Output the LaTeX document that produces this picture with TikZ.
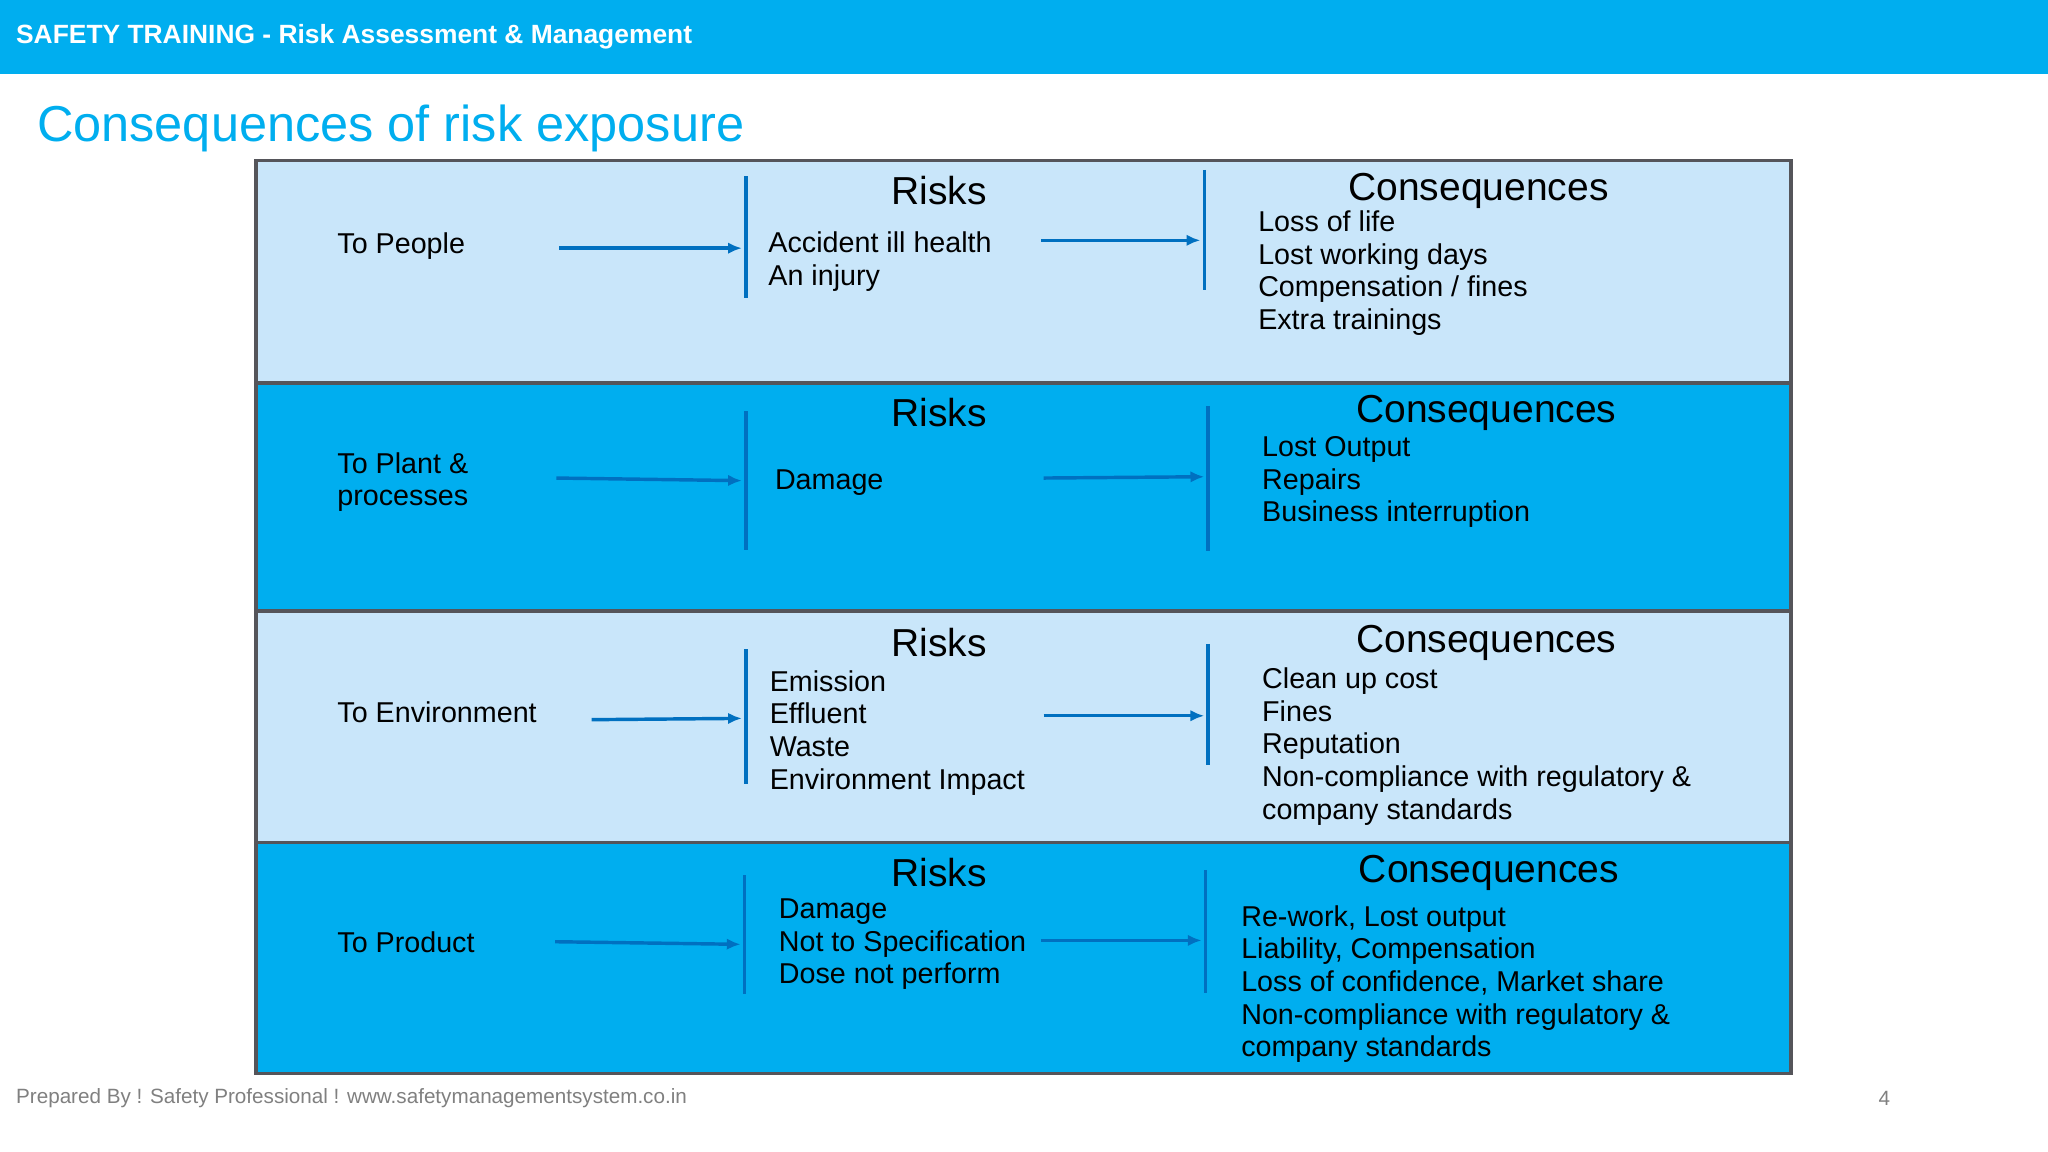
\documentclass[tikz,border=0pt]{standalone}
\usepackage{fontspec}
\setmainfont{Liberation Sans}
\usetikzlibrary{arrows.meta}
\definecolor{hdrblue}{RGB}{0,174,239}
\definecolor{rowlight}{RGB}{201,230,250}
\definecolor{barblue}{RGB}{0,112,192}
\definecolor{frame}{RGB}{85,85,90}
\tikzset{
    rowbox/.style={draw=frame, line width=1.6pt},
    lbl/.style={anchor=north west, inner sep=0pt, align=left, font=\fontsize{12.5}{14.2}\selectfont},
    head/.style={inner sep=0pt, font=\fontsize{17}{18}\selectfont},
    bar/.style={draw=barblue, line width=1.5pt},
    link/.style={draw=barblue, line width=1.5pt, -{Latex[length=6pt,width=5pt]}}
}
\begin{document}
\begin{tikzpicture}[x=0.02cm, y=-0.02cm]
        \useasboundingbox (0,0) rectangle (1568,882);
        \fill[white] (0,0) rectangle (1568,882);
        \fill[hdrblue] (0,0) rectangle (1568,57);
        \node[anchor=west, inner sep=0pt, text=white, font=\fontsize{11.5}{13}\selectfont\bfseries] (hdr) at (12,28) {SAFETY TRAINING - Risk Assessment \& Management};
        \node[anchor=west, inner sep=0pt, text=hdrblue, font=\fontsize{22}{24}\selectfont] (title) at (28,98) {Consequences of risk exposure};

        % rows
        \draw[rowbox, fill=rowlight] (196,123) rectangle (1371,293);
        \draw[rowbox, fill=hdrblue] (196,293) rectangle (1371,468);
        \draw[rowbox, fill=rowlight] (196,468) rectangle (1371,645);
        \draw[rowbox, fill=hdrblue] (196,645) rectangle (1371,822);

        % row 1
        \node[lbl] (people) at (258,178) {To People};
        \node[head] (risk1) at (719,146) {Risks};
        \node[head] (cons1) at (1132,146) {Consequences};
        \node[lbl] (rlist1) at (588,177) {Accident ill health\\An injury};
        \node[lbl] (clist1) at (963,161) {Loss of life\\Lost working days\\Compensation / fines\\Extra trainings};
        \draw[bar] (571,135) coordinate (b1a) -- (571,228);
        \draw[bar] (922,130) coordinate (b1b) -- (922,222);
        \coordinate (s1a) at (428,190); \coordinate (e1a) at (568,190);
        \coordinate (s1b) at (797,184); \coordinate (e1b) at (919,184);
        \draw[link] (s1a) -- (e1a);
        \draw[link] (s1b) -- (e1b);

        % row 2
        \node[lbl] (plant) at (258,346) {To Plant \&\\processes};
        \node[head] (risk2) at (719,316) {Risks};
        \node[head] (cons2) at (1138,316) {Consequences};
        \node[lbl] (rlist2) at (593,359) {Damage};
        \node[lbl] (clist2) at (966,334) {Lost Output\\Repairs\\Business interruption};
        \draw[bar] (571,315) -- (571,421);
        \draw[bar] (925,311) -- (925,422);
        \coordinate (s2a) at (426,366); \coordinate (e2a) at (568,368);
        \coordinate (s2b) at (799,366); \coordinate (e2b) at (922,365);
        \draw[link] (s2a) -- (e2a);
        \draw[link] (s2b) -- (e2b);

        % row 3
        \node[lbl] (env) at (258,537) {To Environment};
        \node[head] (risk3) at (719,492) {Risks};
        \node[head] (cons3) at (1138,492) {Consequences};
        \node[lbl] (rlist3) at (589,513) {Emission\\Effluent\\Waste\\Environment Impact};
        \node[lbl] (clist3) at (966,511) {Clean up cost\\Fines\\Reputation\\Non-compliance with regulatory \&\\company standards};
        \draw[bar] (571,497) -- (571,600);
        \draw[bar] (925,493) -- (925,586);
        \coordinate (s3a) at (453,551); \coordinate (e3a) at (568,550);
        \coordinate (s3b) at (799,548); \coordinate (e3b) at (922,548);
        \draw[link] (s3a) -- (e3a);
        \draw[link] (s3b) -- (e3b);

        % row 4
        \node[lbl] (product) at (258,713) {To Product};
        \node[head] (risk4) at (719,668) {Risks};
        \node[head] (cons4) at (1140,668) {Consequences};
        \node[lbl] (rlist4) at (596,688) {Damage\\Not to Specification\\Dose not perform};
        \node[lbl] (clist4) at (950,693) {Re-work, Lost output\\Liability, Compensation\\Loss of confidence, Market share\\Non-compliance with regulatory \&\\company standards};
        \draw[bar] (570,670) -- (570,761);
        \draw[bar] (923,666) -- (923,760);
        \coordinate (s4a) at (425,721); \coordinate (e4a) at (567,723);
        \coordinate (s4b) at (797,720); \coordinate (e4b) at (920,720);
        \draw[link] (s4a) -- (e4a);
        \draw[link] (s4b) -- (e4b);

        \node[anchor=west, inner sep=0pt, text=gray, font=\fontsize{9}{10}\selectfont] (foot) at (12,841) {Prepared By ! Safety Professional ! www.safetymanagementsystem.co.in};
        \node[anchor=west, inner sep=0pt, text=gray, font=\fontsize{9}{10}\selectfont] (page) at (1438,841) {4};
\end{tikzpicture}
\end{document}
